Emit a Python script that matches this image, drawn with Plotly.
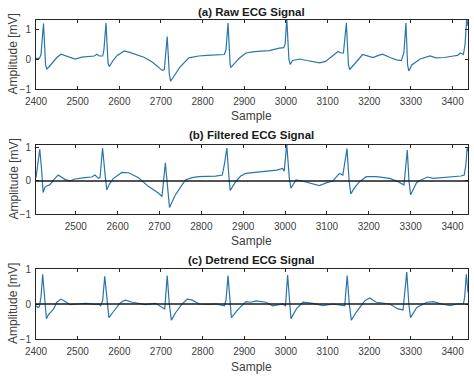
import plotly.graph_objects as go

# ---------------- data ----------------
raw_x = [2400, 2408, 2412, 2418, 2423, 2426, 2432, 2440, 2450, 2460, 2468, 2480, 2494,
         2510, 2525, 2540, 2546, 2552, 2560, 2563, 2568, 2573, 2576, 2585, 2595, 2605,
         2612, 2625, 2640, 2659, 2679, 2695, 2703, 2708, 2715, 2720, 2723, 2730, 2745,
         2767, 2790, 2810, 2835, 2852, 2856, 2861, 2866, 2868, 2878, 2890, 2904, 2920,
         2940, 2960, 2984, 2995, 2998, 3002, 3007, 3010, 3016, 3033, 3050, 3065, 3081,
         3095, 3113, 3125, 3132, 3138, 3145, 3150, 3153, 3160, 3172, 3184, 3195, 3209,
         3222, 3232, 3250, 3265, 3277, 3283, 3288, 3292, 3295, 3302, 3322, 3346, 3360,
         3380, 3402, 3412, 3418, 3426, 3430, 3434, 3437]
raw_y = [0.02, 0.02, 0.15, 1.18, -0.2, -0.33, -0.25, -0.1, 0.05, 0.16, 0.12, 0.05, 0.0,
         0.06, 0.08, 0.1, 0.16, 0.1, 0.1, 0.3, 1.2, -0.15, -0.25, -0.05, 0.12, 0.22,
         0.27, 0.22, 0.16, 0.06, -0.1, -0.28, -0.38, -0.35, 0.75, -0.5, -0.74, -0.6, -0.28,
         0.04, 0.1, 0.12, 0.15, 0.15, 0.3, 1.2, -0.2, -0.28, -0.12, 0.05, 0.2, 0.24,
         0.26, 0.28, 0.36, 0.38, 0.5, 1.35, 0.0, -0.18, -0.05, 0.0, -0.05, -0.09, -0.13,
         -0.08, 0.1, 0.25, 0.2, 0.2, 1.2, -0.2, -0.35, -0.25, -0.05, 0.15, 0.1, 0.05,
         0.12, 0.16, 0.05, -0.03, -0.05, 0.2, 1.2, -0.2, -0.4, -0.2, 0.0, 0.1, 0.04,
         0.05, 0.1, 0.12, 0.2, 0.15, 0.5, 1.35, 1.1]

filt_x = [2405, 2410, 2414, 2418, 2422, 2426, 2430, 2438, 2448, 2458, 2466, 2474, 2486,
          2498, 2522, 2538, 2546, 2554, 2558, 2564, 2570, 2574, 2580, 2590, 2610, 2626,
          2650, 2674, 2690, 2698, 2706, 2714, 2718, 2724, 2738, 2750, 2762, 2778, 2794,
          2834, 2850, 2855, 2861, 2866, 2869, 2882, 2894, 2906, 2930, 2954, 2980, 2994,
          2998, 3004, 3010, 3014, 3026, 3040, 3058, 3082, 3100, 3114, 3130, 3138, 3148,
          3153, 3157, 3166, 3178, 3194, 3218, 3235, 3250, 3270, 3280, 3284, 3292, 3296,
          3300, 3314, 3325, 3340, 3354, 3380, 3402, 3420, 3428, 3432, 3435, 3437]
filt_y = [0.1, 0.6, 0.96, 0.4, -0.35, -0.2, -0.15, -0.12, 0.05, 0.18, 0.12, 0.05, 0.0,
          0.06, 0.1, 0.12, 0.18, 0.08, 0.1, 1.0, 0.2, -0.27, -0.1, 0.08, 0.26, 0.25,
          0.1, -0.17, -0.3, -0.37, -0.47, 0.55, 0.0, -0.8, -0.42, -0.2, 0.03, 0.1, 0.13,
          0.15, 0.18, 0.5, 1.0, 0.1, -0.29, -0.02, 0.15, 0.23, 0.26, 0.28, 0.33, 0.38,
          0.3, 1.12, 0.1, -0.22, 0.03, 0.0, -0.07, -0.14, -0.05, 0.0, 0.23, 0.18, 0.98,
          0.0, -0.39, -0.2, -0.02, 0.13, 0.13, 0.1, 0.08, -0.02, -0.1, -0.12, 0.94, 0.0,
          -0.42, -0.05, 0.03, 0.12, 0.08, 0.1, 0.12, 0.15, 0.18, 0.5, 1.0, 0.9]

detr_x = [2400, 2404, 2408, 2412, 2416, 2420, 2425, 2430, 2442, 2450, 2460, 2470, 2482,
          2500, 2520, 2540, 2551, 2555, 2560, 2565, 2570, 2575, 2587, 2600, 2607, 2615,
          2631, 2650, 2663, 2687, 2703, 2709, 2715, 2720, 2725, 2735, 2751, 2763, 2775,
          2792, 2815, 2832, 2852, 2856, 2861, 2866, 2869, 2884, 2904, 2916, 2928, 2952,
          2968, 2992, 2999, 3004, 3009, 3012, 3025, 3041, 3065, 3089, 3113, 3141, 3147,
          3152, 3157, 3169, 3189, 3201, 3217, 3249, 3269, 3281, 3290, 3295, 3299, 3314,
          3338, 3354, 3374, 3394, 3410, 3426, 3429, 3433, 3437]
detr_y = [-0.05, -0.1, -0.08, 0.2, 0.85, 0.3, -0.42, -0.3, -0.15, 0.05, 0.14, 0.07, -0.02,
          0.0, 0.02, -0.01, 0.0, -0.05, 0.1, 0.79, 0.1, -0.39, -0.2, 0.0, 0.07, 0.11,
          0.05, 0.0, -0.02, 0.02, -0.1, -0.14, 0.81, 0.0, -0.46, -0.25, 0.0, 0.14, 0.11,
          0.0, -0.01, 0.0, -0.05, 0.1, 0.81, 0.0, -0.39, -0.17, 0.07, 0.05, 0.09, 0.05,
          -0.05, 0.0, -0.05, 0.83, 0.0, -0.42, -0.14, 0.05, 0.02, -0.05, 0.0, -0.05, 0.81,
          0.0, -0.46, -0.23, 0.09, 0.17, 0.05, 0.0, -0.14, -0.17, 0.91, 0.0, -0.39, -0.1,
          0.05, 0.07, 0.0, -0.05, 0.0, 0.0, 0.2, 0.85, 0.33]

titles = ["(a) Raw ECG Signal", "(b) Filtered ECG Signal", "(c) Detrend ECG Signal"]
x_label = "Sample"
y_label = "Amplitude [mV]"
x_ranges = [[2400, 3437], [2405, 3437], [2400, 3437]]
y_ranges = [[-1, 1.3], [-1, 1.09], [-1, 1]]
y_ticks = [-1, 0, 1]

# ---------------- layout geometry (pixels) ----------------
W, H = 474, 376
plot_left, plot_right = 36, 468
panel_px = [(20, 89), (145, 214), (269, 339)]       # top, bottom
title_px = [11.5, 135, 260]
xlabel_px = [116, 241, 367]

def fy(py):
    return 1 - py / H

line_color = "#2b74ad"
tick_color = "#404040"
font_family = "Liberation Sans, Arial, sans-serif"

fig = go.Figure()
series = [(raw_x, raw_y), (filt_x, filt_y), (detr_x, detr_y)]
annotations = []
shapes = []
for i, (xs, ys) in enumerate(series):
    n = "" if i == 0 else str(i + 1)
    fig.add_trace(go.Scatter(x=xs, y=ys, mode="lines",
                             line=dict(color=line_color, width=1.2),
                             xaxis="x" + n, yaxis="y" + n, showlegend=False,
                             hoverinfo="skip"))
    top, bot = panel_px[i]
    axis_common = dict(showline=True, mirror="ticks", linecolor="#262626", linewidth=1,
                       ticks="inside", ticklen=3, tickcolor="#262626", tickwidth=1,
                       showgrid=False, zeroline=False, automargin=False,
                       tickfont=dict(family=font_family, size=10, color=tick_color))
    fig.layout["xaxis" + n] = dict(axis_common, domain=[plot_left / W, plot_right / W],
                                   range=x_ranges[i], tick0=2400, dtick=100,
                                   anchor="y" + n, ticklabelstandoff=3)
    fig.layout["yaxis" + n] = dict(axis_common, domain=[fy(bot), fy(top)],
                                   range=y_ranges[i], tickvals=y_ticks,
                                   anchor="x" + n, ticklabelstandoff=2)
    if i > 0:
        shapes.append(dict(type="line", xref="x" + n + " domain", yref="y" + n,
                           x0=0, x1=1, y0=0, y1=0, layer="above",
                           line=dict(color="#1a1a1a", width=1.3)))
    annotations.append(dict(text="<b>" + titles[i] + "</b>", xref="paper", yref="paper",
                            x=(plot_left + plot_right) / 2 / W, y=fy(title_px[i]),
                            showarrow=False, xanchor="center", yanchor="middle",
                            font=dict(family=font_family, size=11.5, color="#1a1a1a")))
    annotations.append(dict(text=x_label, xref="paper", yref="paper",
                            x=(plot_left + plot_right) / 2 / W, y=fy(xlabel_px[i]),
                            showarrow=False, xanchor="center", yanchor="middle",
                            font=dict(family=font_family, size=12, color=tick_color)))
    annotations.append(dict(text=y_label, xref="paper", yref="paper",
                            x=13 / W, y=fy((top + bot) / 2), textangle=-90,
                            showarrow=False, xanchor="center", yanchor="middle",
                            font=dict(family=font_family, size=12, color=tick_color)))

fig.update_layout(width=W, height=H, margin=dict(l=0, r=0, t=0, b=0),
                  paper_bgcolor="white", plot_bgcolor="white",
                  annotations=annotations, shapes=shapes)

fig.write_html("out.html", config={"displayModeBar": False},
               post_script="document.body.style.margin='0';document.body.style.overflow='hidden';")
